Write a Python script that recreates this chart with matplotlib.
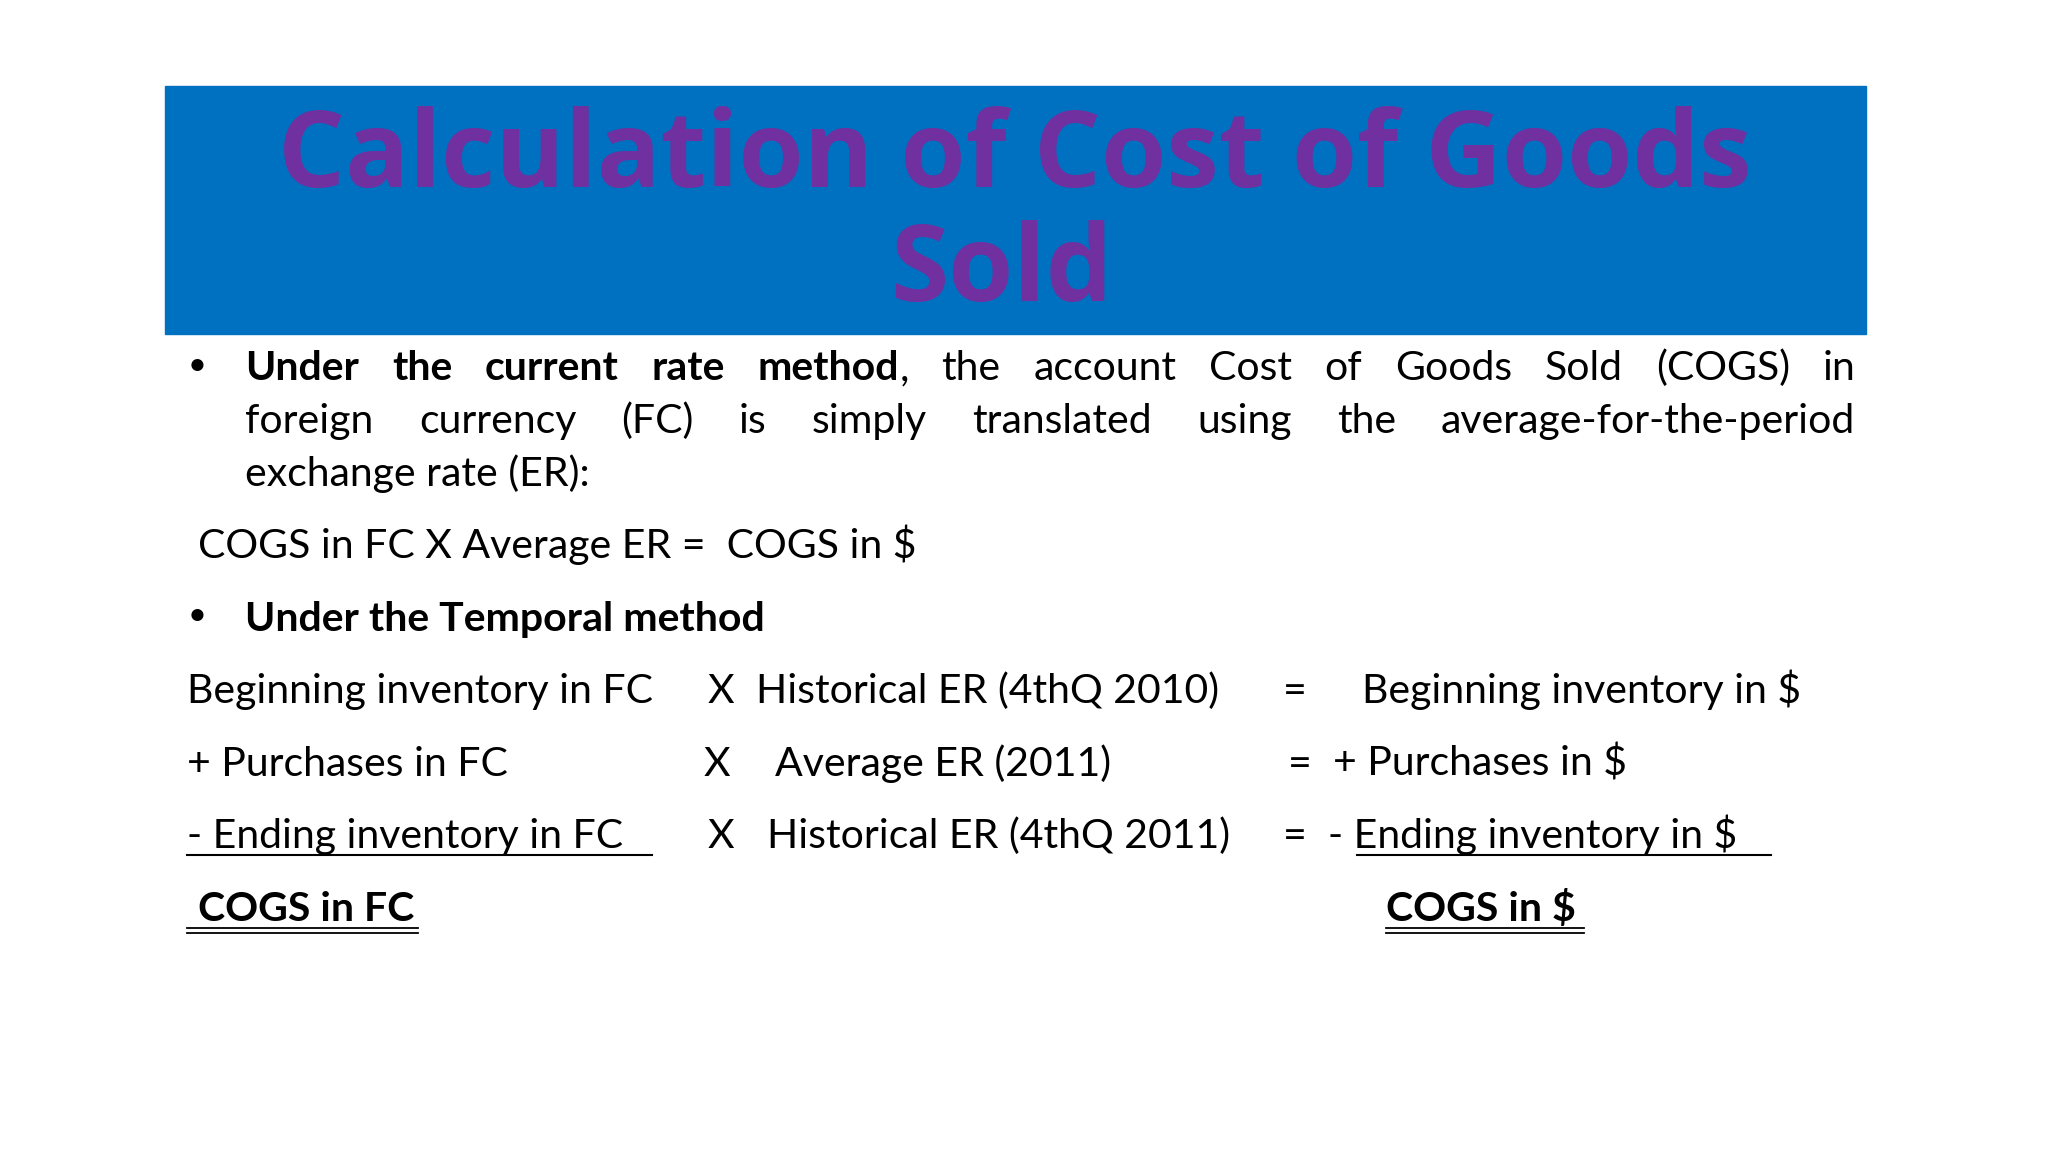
import matplotlib
matplotlib.use("Agg")
import matplotlib.pyplot as plt
from matplotlib.patches import Rectangle

W, H = 1552, 873  # reference layout space

title_lines = ["Calculation of Cost of Goods", "Sold"]
bullet1_lines = [
    [("Under", "bold"), ("the", "bold"), ("current", "bold"), ("rate", "bold"), ("method", "bold"),
     (",", "join"), ("the", "normal"), ("account", "normal"), ("Cost", "normal"), ("of", "normal"),
     ("Goods", "normal"), ("Sold", "normal"), ("(COGS)", "normal"), ("in", "normal")],
    [("foreign", "normal"), ("currency", "normal"), ("(FC)", "normal"), ("is", "normal"),
     ("simply", "normal"), ("translated", "normal"), ("using", "normal"), ("the", "normal"),
     ("average-for-the-period", "normal")],
]
bullet1_last = "exchange rate (ER):"
formula1 = "COGS in FC X Average ER =  COGS in $"
bullet2 = "Under the Temporal method"
rows = [
    ("Beginning inventory in FC", "X", "Historical ER (4thQ 2010)", "=", "Beginning inventory in $"),
    ("+ Purchases in FC", "X", "Average ER (2011)", "=", "+ Purchases in $"),
    ("- Ending inventory in FC", "X", "Historical ER (4thQ 2011)", "=", "- Ending inventory in $"),
]
row_x = [(142, 536, 573, 972, 1032), (142, 533, 587, 976, 1010), (142, 536, 581, 972, 1006)]
row_y = [533, 588, 643]
total_fc = "COGS in FC"
total_usd = "COGS in $"

FONT = "Lato"
FS = 29.5

fig = plt.figure(figsize=(20.48, 11.52), dpi=100)
ax = fig.add_axes([0, 0, 1, 1])
ax.set_xlim(0, W)
ax.set_ylim(H, 0)
ax.axis("off")

ax.add_patch(Rectangle((125, 65), 1289, 188, color="#0070C0"))
ax.text(769, 142, title_lines[0], ha="center", va="baseline", fontsize=76,
        fontweight="bold", color="#7030A0", family="Open Sans")
ax.text(759, 228, title_lines[1], ha="center", va="baseline", fontsize=76,
        fontweight="bold", color="#7030A0", family="Open Sans")

fig.canvas.draw()
r = fig.canvas.get_renderer()
inv = ax.transData.inverted()


def width(s, weight):
    t = ax.text(0, 0, s, fontsize=FS, family=FONT, fontweight=weight)
    bb = t.get_window_extent(renderer=r)
    t.remove()
    x0 = inv.transform((bb.x0, 0))[0]
    x1 = inv.transform((bb.x1, 0))[0]
    return x1 - x0


def justify(words, x0, x1, y):
    groups = []
    for w, wt in words:
        if wt == "join":
            groups[-1].append((w, "normal"))
        else:
            groups.append([(w, wt)])
    widths = [sum(width(w, wt) for w, wt in g) for g in groups]
    gap = (x1 - x0 - sum(widths)) / (len(groups) - 1)
    x = x0
    for g, gw in zip(groups, widths):
        xx = x
        for w, wt in g:
            ax.text(xx, y, w, fontsize=FS, family=FONT, fontweight=wt, va="baseline")
            xx += width(w, wt)
        x += gw + gap


ax.text(142, 284, "•", fontsize=FS * 0.8, family=FONT, va="baseline")
justify(bullet1_lines[0], 186, 1406, 288)
justify(bullet1_lines[1], 186, 1406, 328)
ax.text(186, 368, bullet1_last, fontsize=FS, family=FONT, va="baseline")
ax.text(150, 423, formula1, fontsize=FS, family=FONT, va="baseline")
ax.text(142, 474, "•", fontsize=FS * 0.8, family=FONT, va="baseline")
ax.text(186, 478, bullet2, fontsize=FS, family=FONT, fontweight="bold", va="baseline")

for row, xs, y in zip(rows, row_x, row_y):
    for s, x in zip(row, xs):
        ax.text(x, y, s, fontsize=FS, family=FONT, va="baseline")

ax.text(150, 698, total_fc, fontsize=FS, family=FONT, fontweight="bold", va="baseline")
ax.text(1050, 698, total_usd, fontsize=FS, family=FONT, fontweight="bold", va="baseline")

# underlines
ax.plot([142, 494], [648, 648], color="black", lw=1.5)
ax.plot([1028, 1342], [648, 648], color="black", lw=1.5)
for yy in (703, 707):
    ax.plot([142, 317], [yy, yy], color="black", lw=1.3)
    ax.plot([1050, 1200], [yy, yy], color="black", lw=1.3)

fig.savefig("out.png", dpi=100)
